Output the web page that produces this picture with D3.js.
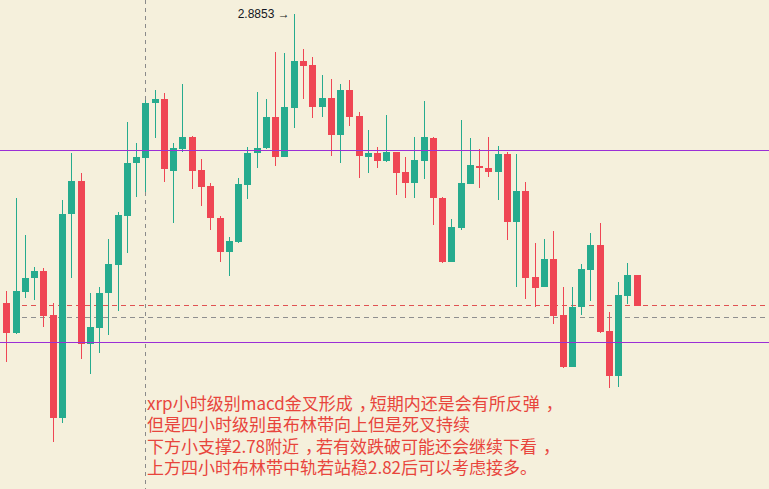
<!DOCTYPE html>
<html><head><meta charset="utf-8">
<script src="https://cdn.jsdelivr.net/npm/d3@7"></script>
<style>html,body{margin:0;padding:0;background:#f5f0dc;}svg{display:block;}</style>
</head><body>
<svg id="c" width="769" height="489"></svg>
<script>
// Candles: open, high, low, close
const opens  = [2.7986,2.7896,2.8019,2.8061,2.8082,2.7950,2.7641,2.8253,2.8352,2.7863,2.7911,2.8016,2.8100,2.8247,2.8406,2.8421,2.8586,2.8598,2.8382,2.8448,2.8484,2.8385,2.8337,2.8241,2.8139,2.8169,2.8340,2.8436,2.8451,2.8544,2.8424,2.8571,2.8712,2.8700,2.8574,2.8601,2.8490,2.8625,2.8547,2.8424,2.8436,2.8412,2.8439,2.8379,2.8346,2.8412,2.8481,2.8301,2.8109,2.8211,2.8343,2.8397,2.8391,2.8379,2.8433,2.8229,2.8322,2.8064,2.8034,2.8118,2.7950,2.7794,2.7974,2.8085,2.8160,2.7902,2.7767,2.8007,2.8070];
const highs  = [2.8022,2.8301,2.8190,2.8094,2.8091,2.7986,2.8295,2.8436,2.8376,2.8016,2.8034,2.8178,2.8259,2.8529,2.8466,2.8595,2.8625,2.8616,2.8466,2.8643,2.8487,2.8418,2.8346,2.8247,2.8184,2.8361,2.8454,2.8619,2.8598,2.8739,2.8736,2.8853,2.8748,2.8724,2.8670,2.8658,2.8643,2.8655,2.8559,2.8505,2.8454,2.8550,2.8439,2.8424,2.8484,2.8592,2.8484,2.8304,2.8238,2.8535,2.8481,2.8448,2.8484,2.8457,2.8439,2.8433,2.8349,2.8166,2.8178,2.8202,2.8034,2.8034,2.8103,2.8196,2.8226,2.7959,2.8049,2.8106,2.8070];
const lows   = [2.7809,2.7893,2.8001,2.7995,2.7914,2.7569,2.7626,2.8061,2.7818,2.7773,2.7836,2.7890,2.7962,2.8136,2.8304,2.8319,2.8481,2.8349,2.8226,2.8439,2.8328,2.8277,2.8205,2.8109,2.8067,2.8166,2.8298,2.8391,2.8448,2.8397,2.8424,2.8511,2.8598,2.8541,2.8544,2.8427,2.8406,2.8517,2.8361,2.8376,2.8391,2.8409,2.8310,2.8301,2.8301,2.8358,2.8220,2.8106,2.8109,2.8205,2.8343,2.8331,2.8364,2.8295,2.8175,2.8034,2.7998,2.7974,2.8034,2.7923,2.7791,2.7794,2.7950,2.7992,2.7896,2.7731,2.7734,2.7983,2.7977];
const closes = [2.7896,2.8022,2.8061,2.8082,2.7947,2.7641,2.8253,2.8352,2.7863,2.7914,2.8016,2.8103,2.8250,2.8406,2.8424,2.8586,2.8598,2.8388,2.8451,2.8484,2.8382,2.8334,2.8241,2.8139,2.8172,2.8343,2.8436,2.8451,2.8544,2.8424,2.8574,2.8712,2.8697,2.8574,2.8601,2.8490,2.8625,2.8544,2.8427,2.8436,2.8412,2.8439,2.8376,2.8346,2.8415,2.8484,2.8301,2.8109,2.8214,2.8346,2.8400,2.8391,2.8379,2.8433,2.8229,2.8322,2.8061,2.8031,2.8118,2.7947,2.7794,2.7974,2.8088,2.8160,2.7899,2.7767,2.8010,2.8070,2.7977];

const bollingerLevels = [2.8445, 2.7869];   // purple lines
const redDashLevel = 2.7980;
const greyDashLevel = 2.7944;
const markerIndex = 15;                      // vertical dashed line
const highLabel = "2.8853";
const noteLines = [
  "xrp小时级别macd金叉形成，短期内还是会有所反弹，",
  "但是四小时级别虽布林带向上但是死叉持续",
  "下方小支撑2.78附近，若有效跌破可能还会继续下看，",
  "上方四小时布林带中轨若站稳2.82后可以考虑接多。"
];

const W = 769, H = 489;
const svg = d3.select("#c");
svg.append("rect").attr("width", W).attr("height", H).attr("fill", "#f5f0dc");

const idx = d3.range(opens.length);
const x = d3.scaleBand().domain(idx).range([0.35, 0.35 + 69 * 9.31]).padding(0.3);
const xc = i => x(i) + x.bandwidth() / 2;
const y = d3.scaleLinear().domain([2.8853, 2.7869]).range([14, 342]);

// vertical dashed marker
svg.append("line")
  .attr("x1", Math.round(xc(markerIndex)) + 0.5).attr("x2", Math.round(xc(markerIndex)) + 0.5)
  .attr("y1", 0).attr("y2", H)
  .attr("stroke", "#8a8a8a").attr("stroke-width", 1).attr("stroke-dasharray", "4,4");

// horizontal dashed levels
svg.append("line").attr("x1", 4).attr("x2", W)
  .attr("y1", Math.round(y(redDashLevel)) + 0.5).attr("y2", Math.round(y(redDashLevel)) + 0.5)
  .attr("stroke", "#e05252").attr("stroke-dasharray", "5,4");
svg.append("line").attr("x1", 4).attr("x2", W)
  .attr("y1", Math.round(y(greyDashLevel)) + 0.5).attr("y2", Math.round(y(greyDashLevel)) + 0.5)
  .attr("stroke", "#8f8f8f").attr("stroke-dasharray", "5,4");

const up = "#26ab8e", down = "#ef4654";
const g = svg.append("g");
idx.forEach(i => {
  const o = opens[i], c = closes[i], hi = highs[i], lo = lows[i];
  const col = c >= o ? up : down;
  const cx = Math.round(xc(i)) + 0.5;
  g.append("line").attr("x1", cx).attr("x2", cx)
    .attr("y1", y(hi)).attr("y2", y(lo)).attr("stroke", col).attr("stroke-width", 1);
  const top = y(Math.max(o, c)), bot = y(Math.min(o, c));
  g.append("rect").attr("x", cx - 3.5).attr("width", 7)
    .attr("y", top).attr("height", Math.max(1.5, bot - top)).attr("fill", col);
});

// purple lines
bollingerLevels.forEach(v => {
  svg.append("line").attr("x1", 0).attr("x2", W)
    .attr("y1", Math.round(y(v)) + 0.5).attr("y2", Math.round(y(v)) + 0.5)
    .attr("stroke", "#9b2fd6").attr("stroke-width", 1);
});

// high label
const hiIdx = d3.maxIndex(highs);
svg.append("text").attr("x", xc(hiIdx) - 4).attr("y", y(highs[hiIdx]) + 4)
  .attr("text-anchor", "end").attr("font-family", "Arial, 'Liberation Sans', sans-serif")
  .attr("font-size", 12).attr("fill", "#131722").text(highLabel + " →");

// annotation text (full-width commas drawn centred in their cell via per-glyph dx)
noteLines.forEach((s, k) => {
  const chars = Array.from(s);
  const dx = chars.map((ch, j) => ch === "，" ? 6 : (j > 0 && chars[j - 1] === "，" ? -6 : 0));
  svg.append("text").attr("font-family", "'Noto Sans CJK SC', sans-serif")
    .attr("font-size", 17).attr("fill", "#e8453c")
    .attr("x", 147).attr("y", 410 + k * 21.3)
    .attr("dx", dx.join(" "))
    .text(s);
});
</script>
</body></html>
